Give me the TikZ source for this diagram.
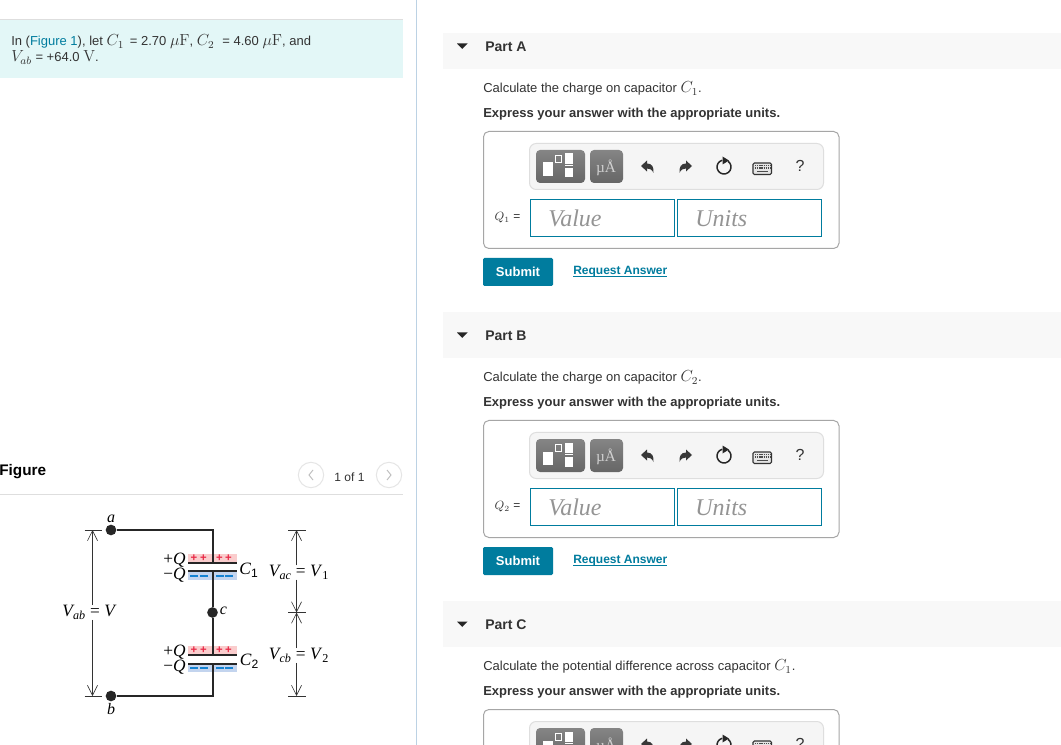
\documentclass[tikz,border=0pt]{standalone}
\usepackage[no-math]{fontspec}
\usepackage{amsmath}
\setmainfont{Liberation Sans}
\newfontfamily\timesfont{Liberation Serif}
\usetikzlibrary{arrows.meta}

\definecolor{linkteal}{RGB}{0,124,158}
\definecolor{bandteal}{RGB}{227,247,247}
\definecolor{bandgray}{RGB}{248,248,248}
\definecolor{textgray}{RGB}{51,51,51}
\definecolor{platepink}{RGB}{250,205,205}
\definecolor{plateblue}{RGB}{195,212,238}
\definecolor{plusred}{RGB}{232,40,70}
\definecolor{minusblue}{RGB}{20,130,210}
\definecolor{dividerblue}{RGB}{188,210,228}

\tikzset{
  uitext/.style={anchor=west,inner sep=0pt,text=textgray,font=\fontsize{9.75}{12}\selectfont},
  boldtext/.style={uitext,font=\fontsize{9.75}{12}\selectfont\bfseries},
  parthead/.style={uitext,font=\fontsize{10.5}{12}\selectfont\bfseries},
  circuittext/.style={inner sep=0pt,font=\fontsize{13}{14}\selectfont\timesfont},
  circuitletter/.style={inner sep=0pt,font=\fontsize{12}{13}\selectfont\timesfont\itshape},
  wire/.style={line width=1.5pt,draw=black!85},
  plate/.style={line width=1.5pt,draw=black!85},
  terminal/.style={circle,fill=black!85,inner sep=0pt,minimum size=8},
  dimarrow/.style={line width=0.45pt,draw=black!80,-{Straight Barb[length=7.5pt,width=7.5pt]}},
  dimtick/.style={line width=0.45pt,draw=black!80},
  inputbox/.style={draw=linkteal,line width=0.75pt,fill=white},
  placeholder/.style={anchor=west,inner sep=0pt,text=black!42,font=\fontsize{18}{19}\selectfont\timesfont\itshape},
  toolbutton/.style={rounded corners=3,draw=none,top color=black!48,bottom color=black!60},
  toolicon/.style={fill=black!78,draw=none},
  pagerbutton/.style={circle,draw=black!10,line width=0.75pt,minimum size=19,inner sep=0pt},
}

% math of the page text, larger than the words round it
\newcommand{\pagemath}[1]{{\fontsize{11.5}{12}\selectfont$#1$}}
% link text with its rule close under the letters
\newcommand{\linktext}[1]{{\setbox0\hbox{#1}\rlap{\raisebox{-1.5pt}{\rule{\wd0}{0.6pt}}}\box0}}

% frame and toolbar, #1 = shift down, #2 = index of Q
\newcommand{\answertools}[2]{
\begin{scope}[yshift=#1*0.75pt]
\draw [black!35,line width=0.75pt,rounded corners=4,fill=white] (483.5,131.5) rectangle (839,248.5);
\draw [black!13,line width=0.75pt,rounded corners=5,fill=black!4] (529.5,143.5) rectangle (823.5,189.5);
% Buttons
\path [toolbutton] (536,150) rectangle (585,183);
\path [toolbutton] (590,150) rectangle (623,183);
\fill [white] (543,162.5) rectangle (553,176);
\draw [white,line width=0.6pt] (555.5,155.5) rectangle (561,162);
\fill [white] (564.5,153.5) rectangle (572.5,164);
\fill [white] (564.5,165.3) rectangle (572.5,166.2);
\fill [white] (564.5,168) rectangle (572.5,177.5);
\node (unit#2) at (606,168) [inner sep=0pt,text=black!18,font=\fontsize{11.5}{12}\selectfont\timesfont] {µÅ};
% Undo and redo
\fill [toolicon] (641,166) -- (647,160.5) -- (647,163.5) .. controls (652,163.5) and (654,167) .. (653.5,173) .. controls (652,169.5) and (650,168.5) .. (647,168.5) -- (647,171.5) -- cycle;
\fill [toolicon] (692,166) -- (686,160.5) -- (686,163.5) .. controls (681,163.5) and (679,167) .. (679.5,173) .. controls (681,169.5) and (683,168.5) .. (686,168.5) -- (686,171.5) -- cycle;
% Reload
\draw [black!85,line width=1.1pt] (724,167) ++(-105:7) arc (-105:-415:7);
\fill [black!85] (722.5,156.5) -- (729,160.5) -- (722.5,164.5) -- cycle;
% Keyboard
\draw [black!80,line width=0.8pt,rounded corners=1,fill=black!10] (753,163) rectangle (771.5,174.5);
\draw [black!70,line width=1.3pt,dash pattern=on 1pt off 0.6pt] (755,165.5) -- (770,165.5);
\draw [black!70,line width=1.3pt,dash pattern=on 1pt off 0.6pt] (755,168.2) -- (770,168.2);
\draw [black!70,line width=1.2pt] (757,171.5) -- (768,171.5);
\node (help#2) at (800,166) [inner sep=0pt,text=textgray,font=\fontsize{12}{13}\selectfont] {?};
\end{scope}
}

% input fields and buttons under the toolbar, #1 = shift down, #2 = index of Q
\newcommand{\answerfields}[2]{
\begin{scope}[yshift=#1*0.75pt]
\node (lab#2) at (507.5,218) [inner sep=0pt,text=textgray,font=\fontsize{9}{10}\selectfont] {$Q_{#2}$ =};
\draw [inputbox] (530.5,199.5) rectangle (674.5,236.5);
\draw [inputbox] (677.5,199.5) rectangle (821.5,236.5);
\node (value#2) at (548,218) [placeholder] {Value};
\node (units#2) at (695,218.5) [placeholder] {Units};
% Submit
\node (submit#2) at (518,272) [rounded corners=1,fill=linkteal,text=white,minimum width=52.5pt,minimum height=21pt,inner sep=0pt,font=\fontsize{9.75}{11}\selectfont\bfseries] {Submit};
\node (request#2) at (573,271.5) [uitext,text=linkteal,font=\fontsize{9}{11}\selectfont\bfseries] {\linktext{Request Answer}};
\end{scope}
}

\begin{document}
\begin{tikzpicture}[x=0.75pt,y=0.75pt,yscale=-1,xscale=1]
\clip (0,0) rectangle (1061,745);
\fill [white] (0,0) rectangle (1061,745);

% Problem statement
\fill [bandteal] (0,19) rectangle (403,78);
\draw [black!13,line width=0.75pt] (0,19.5) -- (403,19.5);
\node (intro) at (11,49.5) [uitext,align=left] {In ({\color{linkteal}Figure 1}), let \pagemath{C_1}\, = 2.70 \pagemath{\mu\mathrm{F}}, \pagemath{C_2}\,\, = 4.60 \pagemath{\mu\mathrm{F}}, and\\\pagemath{V_{ab}} = +64.0 \pagemath{\mathrm{V}}.};
% Divider
\draw [dividerblue,line width=1pt] (416.5,0) -- (416.5,745);

% Figure header
\node (figure) at (-1,472) [uitext,text=black,font=\fontsize{11.5}{13}\selectfont\bfseries] {Figure};
\node (prev) at (311,475) [pagerbutton] {};
\node (next) at (389,475) [pagerbutton] {};
\draw [black!25,line width=0.75pt] (313,470) -- (309,475) -- (313,480);
\draw [black!25,line width=0.75pt] (387,470) -- (391,475) -- (387,480);
\node (pager) at (349.5,477) [inner sep=0pt,text=textgray,font=\fontsize{9}{11}\selectfont] {1 of 1};
\draw [black!13,line width=0.75pt] (0,494.5) -- (403,494.5);

% Charge bands
\fill [platepink] (188,554) rectangle (237,562);
\fill [plateblue] (188,571) rectangle (237,580);
\fill [platepink] (188,646) rectangle (237,655);
\fill [plateblue] (188,663) rectangle (237,672);
% Circuit nodes
\node (a) at (111,530) [terminal] {};
\node (b) at (111,696) [terminal] {};
\node (c) at (212.5,612.5) [terminal] {};
\coordinate (cornera) at (212.5,530);
\coordinate (cornerb) at (212.5,696);
\coordinate (ctopu) at (212.5,562.5);
\coordinate (ctopl) at (212.5,571);
\coordinate (cbotu) at (212.5,655);
\coordinate (cbotl) at (212.5,663.5);
\draw [wire] (a) -- (cornera) -- (ctopu);
\draw [wire] (ctopl) -- (c) -- (cbotu);
\draw [wire] (cbotl) -- (cornerb) -- (b);
\draw [plate] (188,562.5) -- (237,562.5);
\draw [plate] (188,571) -- (237,571);
\draw [plate] (188,655) -- (237,655);
\draw [plate] (188,663.5) -- (237,663.5);
% Plus and minus signs
\foreach \yp in {558,650}
  \foreach \xp in {194,203.5,219.5,228.5}
    \node at (\xp,\yp) [inner sep=0pt,text=plusred,font=\fontsize{8.5}{8.5}\selectfont\bfseries] {+};
\foreach \ym in {576,668}
  \foreach \xm in {194,204,219.5,229}
    \fill [minusblue] (\xm-4,\ym-0.6) rectangle (\xm+4,\ym+0.6);
% Circuit labels
\node (la) at (111,519) [circuitletter] {a};
\node (lb) at (111,709) [circuitletter] {b};
\node (lc) at (223.5,611) [circuitletter] {c};
\node (qa) at (174.5,560) [circuittext] {+\textit{Q}};
\node (qb) at (174.5,575.5) [circuittext] {−\textit{Q}};
\node (qc) at (174.5,652) [circuittext] {+\textit{Q}};
\node (qd) at (174.5,667.5) [circuittext] {−\textit{Q}};
\node (cone) at (249,570) [circuittext] {\textit{C}\textsubscript{\normalfont 1}};
\node (ctwo) at (249.5,661) [circuittext] {\textit{C}\textsubscript{\normalfont 2}};
% Voltage labels
\node (vab) at (89.5,612.5) [circuittext] {\textit{V\textsubscript{ab}} = \textit{V}};
\node (vac) at (299,572.5) [circuittext] {\textit{V\textsubscript{ac}} = \textit{V}\textsubscript{1}};
\node (vcb) at (299,655.5) [circuittext] {\textit{V\textsubscript{cb}} = \textit{V}\textsubscript{2}};
% Dimension lines
\coordinate (ltop) at (92.5,530);
\coordinate (lbot) at (92.5,696);
\coordinate (rtop) at (296.5,530);
\coordinate (rmid) at (296.5,612.5);
\coordinate (rbot) at (296.5,696);
\draw [dimarrow] (ltop |- vab.north) -- (ltop);
\draw [dimarrow] (lbot |- vab.south) -- (lbot);
\draw [dimarrow] (rtop |- vac.north) -- (rtop);
\draw [dimarrow] (rmid |- vac.south) -- (rmid);
\draw [dimarrow] (rmid |- vcb.north) -- (rmid);
\draw [dimarrow] (rbot |- vcb.south) -- (rbot);
\draw [dimtick] (84.5,530) -- (101.5,530);
\draw [dimtick] (84.5,696) -- (101.5,696);
\draw [dimtick] (288,530) -- (305.5,530);
\draw [dimtick] (288,612.5) -- (305.5,612.5);
\draw [dimtick] (288,696) -- (305.5,696);

% Part headers
\foreach \ytop/\ybot/\ytxt/\pname in {33/69/46.5/A,312/358/335.5/B,601/647/624.5/C}{
  \fill [bandgray] (443,\ytop) rectangle (1061,\ybot);
  \fill [black!85] (457,\ytxt-3) -- (467.5,\ytxt-3) -- (462.25,\ytxt+2.5) -- cycle;
  \node at (485,\ytxt) [parthead] {Part \pname};
}

% Part A
\node (aska) at (483,88.5) [uitext] {Calculate the charge on capacitor \pagemath{C_1}.};
\node (expa) at (483,114) [boldtext] {Express your answer with the appropriate units.};
\answertools{0}{1}
\answerfields{0}{1}
% Part B
\node (askb) at (483,377.5) [uitext] {Calculate the charge on capacitor \pagemath{C_2}.};
\node (expb) at (483,403) [boldtext] {Express your answer with the appropriate units.};
\answertools{289}{2}
\answerfields{289}{2}
% Part C
\node (askc) at (483,666.5) [uitext] {Calculate the potential difference across capacitor \pagemath{C_1}.};
\node (expc) at (483,692) [boldtext] {Express your answer with the appropriate units.};
\answertools{578}{3}

\end{tikzpicture}
\end{document}
